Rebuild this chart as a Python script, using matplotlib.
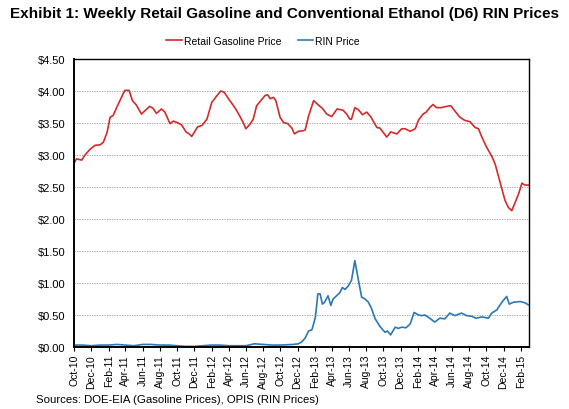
import pandas as pd
import matplotlib.pyplot as plt
import matplotlib.dates as mdates
from matplotlib.ticker import MultipleLocator, FuncFormatter

plt.rcParams['font.family'] = ['Liberation Sans', 'DejaVu Sans']

# Retail gasoline price ($/gal)
gas_dates = [
    '2010-10-01', '2010-10-10', '2010-10-28', '2010-11-09', '2010-11-27', '2010-12-14',
    '2011-01-02', '2011-01-13', '2011-01-26', '2011-02-06', '2011-02-17', '2011-03-01',
    '2011-03-18', '2011-03-30', '2011-04-14', '2011-04-26', '2011-05-10', '2011-05-28',
    '2011-06-09', '2011-06-26', '2011-07-08', '2011-07-20', '2011-08-07', '2011-08-19',
    '2011-09-06', '2011-09-18', '2011-10-05', '2011-10-17', '2011-11-02', '2011-11-13',
    '2011-11-22', '2011-12-13', '2011-12-28', '2012-01-15', '2012-02-01', '2012-02-18',
    '2012-03-04', '2012-03-16', '2012-04-05', '2012-04-23', '2012-05-10', '2012-05-22',
    '2012-06-01', '2012-06-15', '2012-06-27', '2012-07-09', '2012-07-24', '2012-08-08',
    '2012-08-17', '2012-08-26', '2012-09-07', '2012-09-15', '2012-09-30', '2012-10-12',
    '2012-10-27', '2012-11-11', '2012-11-20', '2012-12-04', '2012-12-22', '2012-12-28',
    '2013-01-09', '2013-01-27', '2013-02-13', '2013-02-27', '2013-03-14', '2013-04-01',
    '2013-04-20', '2013-05-11', '2013-05-24', '2013-06-04', '2013-06-10', '2013-06-22',
    '2013-07-04', '2013-07-19', '2013-08-03', '2013-08-17', '2013-09-08', '2013-09-19',
    '2013-10-13', '2013-10-27', '2013-11-18', '2013-12-05', '2013-12-17', '2014-01-04',
    '2014-01-22', '2014-02-03', '2014-02-19', '2014-03-02', '2014-03-14', '2014-03-26',
    '2014-04-07', '2014-04-25', '2014-05-13', '2014-05-28', '2014-06-11', '2014-06-29',
    '2014-07-17', '2014-08-04', '2014-08-22', '2014-09-03', '2014-09-15', '2014-10-02',
    '2014-10-20', '2014-11-01', '2014-11-12', '2014-11-25', '2014-12-06', '2014-12-18',
    '2014-12-30', '2015-01-11', '2015-01-23', '2015-02-04', '2015-02-15', '2015-02-28',
]
gas_price = [
    2.87, 2.94, 2.92, 3.00, 3.09, 3.15, 3.16, 3.20, 3.35, 3.59,
    3.62, 3.74, 3.90, 4.01, 4.01, 3.85, 3.78, 3.64, 3.69, 3.76,
    3.73, 3.65, 3.72, 3.67, 3.49, 3.53, 3.50, 3.47, 3.36, 3.33,
    3.29, 3.44, 3.46, 3.56, 3.82, 3.92, 4.00, 3.98, 3.85, 3.74,
    3.61, 3.51, 3.41, 3.48, 3.56, 3.77, 3.85, 3.93, 3.94, 3.88,
    3.90, 3.85, 3.59, 3.51, 3.49, 3.42, 3.33, 3.37, 3.38, 3.39,
    3.61, 3.85, 3.78, 3.73, 3.64, 3.60, 3.72, 3.70, 3.64, 3.56,
    3.56, 3.74, 3.71, 3.63, 3.67, 3.60, 3.43, 3.42, 3.28, 3.36,
    3.33, 3.41, 3.41, 3.37, 3.41, 3.55, 3.64, 3.67, 3.74, 3.79,
    3.74, 3.74, 3.76, 3.77, 3.69, 3.59, 3.54, 3.52, 3.43, 3.41,
    3.28, 3.12, 2.98, 2.86, 2.68, 2.47, 2.29, 2.18, 2.13, 2.26,
    2.39, 2.56, 2.53, 2.53,
]

# D6 RIN price ($)
rin_dates = [
    '2010-10-01', '2010-11-01', '2010-12-01', '2011-01-01', '2011-02-01', '2011-03-01',
    '2011-04-01', '2011-05-01', '2011-06-01', '2011-07-01', '2011-08-01', '2011-09-01',
    '2011-10-01', '2011-11-01', '2011-12-01', '2012-01-01', '2012-02-01', '2012-03-01',
    '2012-04-01', '2012-05-01', '2012-06-01', '2012-07-01', '2012-08-01', '2012-09-01',
    '2012-10-01', '2012-11-16', '2012-12-04', '2012-12-16', '2012-12-28', '2013-01-09',
    '2013-01-21', '2013-02-02', '2013-02-11', '2013-02-19', '2013-02-27', '2013-03-07',
    '2013-03-19', '2013-03-29', '2013-04-06', '2013-04-18', '2013-04-30', '2013-05-09',
    '2013-05-18', '2013-05-29', '2013-06-10', '2013-06-22', '2013-07-04', '2013-07-16',
    '2013-07-28', '2013-08-09', '2013-08-21', '2013-09-02', '2013-09-19', '2013-10-07',
    '2013-10-15', '2013-10-27', '2013-11-12', '2013-11-23', '2013-12-05', '2013-12-20',
    '2014-01-04', '2014-01-18', '2014-02-03', '2014-02-14', '2014-02-25', '2014-03-14',
    '2014-04-01', '2014-04-19', '2014-05-07', '2014-05-24', '2014-06-11', '2014-07-05',
    '2014-07-23', '2014-08-10', '2014-08-25', '2014-09-15', '2014-10-08', '2014-10-20',
    '2014-11-07', '2014-11-25', '2014-12-12', '2014-12-21', '2015-01-05', '2015-01-29',
    '2015-02-15', '2015-02-26',
]
rin_price = [
    0.03, 0.03, 0.02, 0.03, 0.03, 0.04, 0.03, 0.02, 0.04, 0.04,
    0.03, 0.03, 0.02, 0.01, 0.01, 0.02, 0.03, 0.03, 0.02, 0.02,
    0.02, 0.05, 0.04, 0.03, 0.03, 0.04, 0.05, 0.08, 0.14, 0.25,
    0.27, 0.46, 0.83, 0.83, 0.67, 0.70, 0.80, 0.65, 0.75, 0.80,
    0.85, 0.93, 0.90, 0.95, 1.04, 1.35, 1.06, 0.78, 0.75, 0.70,
    0.59, 0.44, 0.32, 0.23, 0.25, 0.19, 0.31, 0.29, 0.31, 0.30,
    0.36, 0.54, 0.50, 0.49, 0.50, 0.45, 0.39, 0.45, 0.44, 0.53,
    0.49, 0.53, 0.49, 0.48, 0.45, 0.47, 0.45, 0.53, 0.58, 0.70,
    0.79, 0.67, 0.70, 0.71, 0.69, 0.66,
]

title = 'Exhibit 1: Weekly Retail Gasoline and Conventional Ethanol (D6) RIN Prices'
source = 'Sources: DOE-EIA (Gasoline Prices), OPIS (RIN Prices)'

red = '#d42a2a'
blue = '#2c78b4'

fig = plt.figure(figsize=(5.69, 4.10), dpi=100)
ax = fig.add_axes([74 / 569, 62 / 410, 455 / 569, 288 / 410])

ax.plot(pd.to_datetime(gas_dates), gas_price, color=red, lw=1.2, label='Retail Gasoline Price')
ax.plot(pd.to_datetime(rin_dates), rin_price, color=blue, lw=1.2, label='RIN Price')

ax.set_xlim(pd.Timestamp('2010-10-01'), pd.Timestamp('2015-03-01'))
ax.set_ylim(0, 4.5)
ax.yaxis.set_major_locator(MultipleLocator(0.5))
ax.yaxis.set_major_formatter(FuncFormatter(lambda v, p: '${:.2f}'.format(v)))
ax.xaxis.set_major_locator(mdates.MonthLocator(bymonth=[2, 4, 6, 8, 10, 12]))
ax.xaxis.set_major_formatter(mdates.DateFormatter('%b-%y'))
plt.setp(ax.get_xticklabels(), rotation=90)
ax.tick_params(axis='x', labelsize=7.5, length=3, width=0.8, pad=2, colors='black')
ax.tick_params(axis='y', labelsize=8, length=0, pad=6, colors='black')

ax.grid(axis='y', linestyle=(0, (1.5, 1.5)), color='#999999', lw=0.6)
for side in ['left', 'bottom']:
    ax.spines[side].set_linewidth(1.4)
for side in ['top', 'right']:
    ax.spines[side].set_linewidth(1.0)

fig.text(0.5, 1 - 14 / 410, title, ha='center', va='center', fontsize=11, fontweight='bold')
fig.legend(loc='center', bbox_to_anchor=(263 / 569, 1 - 42 / 410), ncol=2, frameon=False,
           fontsize=7.5, handlelength=1.5, handletextpad=0.2, columnspacing=1.6)
fig.text(36 / 569, 1 - 400 / 410, source, ha='left', va='center', fontsize=8.2)

fig.savefig('out.png', dpi=100)
